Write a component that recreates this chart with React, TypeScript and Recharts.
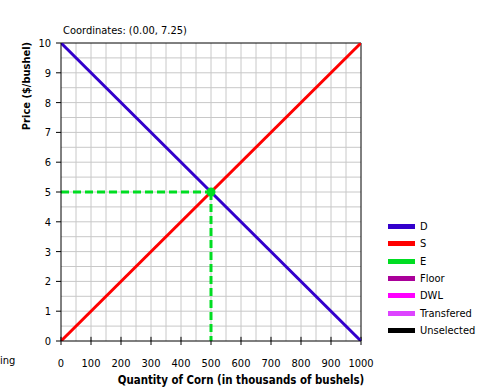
import React from "react";
import {
  LineChart,
  Line,
  XAxis,
  YAxis,
  ReferenceLine,
  ReferenceDot,
} from "recharts";

const demand = [
  { q: 0, p: 10 },
  { q: 1000, p: 0 },
];
const supply = [
  { q: 0, p: 0 },
  { q: 1000, p: 10 },
];
const eqHorizontal = [
  { q: 0, p: 5 },
  { q: 500, p: 5 },
];
const eqVertical = [
  { q: 500, p: 5 },
  { q: 500, p: 0 },
];
const equilibrium = { q: 500, p: 5 };

const xTicks = [0, 100, 200, 300, 400, 500, 600, 700, 800, 900, 1000];
const yTicks = [0, 1, 2, 3, 4, 5, 6, 7, 8, 9, 10];
const xGrid = [
  50, 100, 150, 200, 250, 300, 350, 400, 450, 500, 550, 600, 650, 700, 750,
  800, 850, 900, 950,
];
const yGrid = [
  0.5, 1, 1.5, 2, 2.5, 3, 3.5, 4, 4.5, 5, 5.5, 6, 6.5, 7, 7.5, 8, 8.5, 9, 9.5,
];

const legendItems = [
  { name: "D", color: "#3300cc" },
  { name: "S", color: "#ff0000" },
  { name: "E", color: "#00dd22" },
  { name: "Floor", color: "#aa0099" },
  { name: "DWL", color: "#ff00ff" },
  { name: "Transfered", color: "#dd44ff" },
  { name: "Unselected", color: "#000000" },
];

const FONT = "'DejaVu Sans Condensed', 'DejaVu Sans', sans-serif";

const LegendBox = () => (
  <div
    style={{
      position: "absolute",
      left: 388,
      top: 218,
      fontSize: 11,
      color: "#000",
    }}
  >
    {legendItems.map((item) => (
      <div
        key={item.name}
        style={{ display: "flex", alignItems: "center", height: 17.3 }}
      >
        <span
          style={{
            display: "inline-block",
            width: 27,
            height: 5,
            background: item.color,
            marginRight: 5,
          }}
        />
        <span>{item.name}</span>
      </div>
    ))}
  </div>
);

const App: React.FC = () => {
  const tickStyle = { fontFamily: FONT, fontSize: 11, fill: "#000" };
  return (
    <div
      style={{
        position: "absolute",
        left: 0,
        top: 0,
        width: 502,
        height: 389,
        background: "#fff",
        fontFamily: FONT,
      }}
    >
      <LineChart
        width={502}
        height={389}
        margin={{ top: 43, right: 141, bottom: 0, left: 21 }}
      >
        <XAxis
          dataKey="q"
          type="number"
          domain={[0, 1000]}
          ticks={xTicks}
          interval={0}
          allowDataOverflow
          stroke="#000"
          tickSize={4}
          tickMargin={14}
          height={48}
          tick={tickStyle}
        />
        <YAxis
          type="number"
          domain={[0, 10]}
          ticks={yTicks}
          interval={0}
          allowDataOverflow
          stroke="#000"
          width={40}
          tickSize={5}
          tickMargin={5}
          tick={tickStyle}
        />
        {xGrid.map((v) => (
          <ReferenceLine key={"gx" + v} x={v} stroke="#c8c8c8" />
        ))}
        {yGrid.map((v) => (
          <ReferenceLine key={"gy" + v} y={v} stroke="#c8c8c8" />
        ))}
        <ReferenceLine y={10} stroke="#000" strokeWidth={1} />
        <ReferenceLine x={1000} stroke="#000" strokeWidth={1} />
        {xTicks.map((t) => (
          <ReferenceLine
            key={"xt" + t}
            segment={[
              { x: t, y: 0 },
              { x: t, y: 0.14 },
            ]}
            stroke="#000"
          />
        ))}
        <Line
          data={eqHorizontal}
          dataKey="p"
          stroke="#00dd22"
          strokeWidth={3}
          strokeDasharray="8 4"
          dot={false}
          isAnimationActive={false}
        />
        <Line
          data={eqVertical}
          dataKey="p"
          stroke="#00dd22"
          strokeWidth={3}
          strokeDasharray="8 4"
          dot={false}
          isAnimationActive={false}
        />
        <Line
          data={supply}
          dataKey="p"
          stroke="#ff0000"
          strokeWidth={3}
          dot={false}
          isAnimationActive={false}
        />
        <Line
          data={demand}
          dataKey="p"
          stroke="#3300cc"
          strokeWidth={3}
          dot={false}
          isAnimationActive={false}
        />
        <ReferenceDot
          x={equilibrium.q}
          y={equilibrium.p}
          r={4.5}
          fill="#00dd22"
          stroke="none"
        />
      </LineChart>
      <LegendBox />
      <div
        style={{
          position: "absolute",
          left: 63,
          top: 24,
          fontSize: 11,
          whiteSpace: "nowrap",
        }}
      >
        Coordinates: (0.00, 7.25)
      </div>
      <div
        style={{
          position: "absolute",
          left: 26,
          top: 86,
          fontSize: 11,
          fontWeight: "bold",
          whiteSpace: "nowrap",
          transform: "translate(-50%, -50%) rotate(-90deg)",
        }}
      >
        Price ($/bushel)
      </div>
      <div
        style={{
          position: "absolute",
          left: 241,
          top: 380,
          fontSize: 11.4,
          fontWeight: "bold",
          whiteSpace: "nowrap",
          transform: "translate(-50%, -50%)",
        }}
      >
        Quantity of Corn (in thousands of bushels)
      </div>
      <div
        style={{
          position: "absolute",
          left: 0,
          top: 354,
          fontSize: 11,
          whiteSpace: "nowrap",
        }}
      >
        ing
      </div>
    </div>
  );
};

export default App;
